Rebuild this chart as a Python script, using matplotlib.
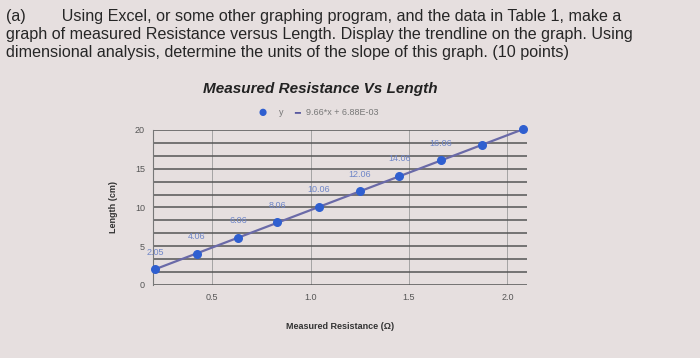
import matplotlib.pyplot as plt
import numpy as np

plt.rcParams["font.family"] = ["Liberation Sans", "DejaVu Sans"]

# data
resistance = [0.21, 0.42, 0.63, 0.83, 1.04, 1.25, 1.45, 1.66, 1.87, 2.08]
length = [2.05, 4.06, 6.06, 8.06, 10.06, 12.06, 14.06, 16.06, 18.06, 20.06]
point_labels = ["2.05", "4.06", "6.06", "8.06", "10.06", "12.06", "14.06", "16.06", "", ""]
slope = 9.66
intercept = 6.88e-03

x_ticks = [0.5, 1.0, 1.5, 2.0]
x_ticklabels = ["0.5", "1.0", "1.5", "2.0"]
y_ticks = [0, 5, 10, 15, 20]

question = [
    "(a)        Using Excel, or some other graphing program, and the data in Table 1, make a",
    "graph of measured Resistance versus Length. Display the trendline on the graph. Using",
    "dimensional analysis, determine the units of the slope of this graph. (10 points)",
]

bg = "#e6dfdf"
fig = plt.figure(figsize=(7, 3.58), dpi=100, facecolor=bg)

for i, line in enumerate(question):
    fig.text(0.008, 0.955 - i * 0.051, line, fontsize=11.6, color="#262626",
             va="center", ha="left")

fig.text(0.457, 0.752, "Measured Resistance Vs Length", fontsize=11,
         fontweight="bold", fontstyle="italic", ha="center", va="center",
         color="#222222")

ax = fig.add_axes([0.219, 0.204, 0.534, 0.433])
ax.set_facecolor(bg)

xs = np.array([0.2, 2.1])
ax.plot(xs, slope * xs + intercept, color="#6a6aa8", lw=1.6, zorder=2)
ax.scatter(resistance, length, s=30, color="#2f5fd0", zorder=3, clip_on=False)

for x, y, lab in zip(resistance, length, point_labels):
    if lab:
        ax.annotate(lab, (x, y), xytext=(0, 9), textcoords="offset points",
                    ha="center", va="bottom", fontsize=6.5, color="#6f86c8")

ax.set_xlim(0.2, 2.1)
ax.set_ylim(0, 20)
ax.set_xticks(x_ticks)
ax.set_xticklabels(x_ticklabels)
ax.set_yticks(y_ticks)
ax.set_yticks(np.arange(0, 20.01, 5 / 3), minor=True)
ax.tick_params(axis="both", length=0, labelsize=6.5, labelcolor="#555555", pad=6)
ax.tick_params(axis="y", which="minor", length=0)

ax.grid(axis="y", which="both", color="#555555", lw=1.1)
ax.grid(axis="x", which="major", color="#9a9a9a", lw=0.6)
ax.set_axisbelow(True)
for side in ["top", "right", "bottom"]:
    ax.spines[side].set_visible(False)
ax.spines["left"].set_color("#777777")
ax.spines["left"].set_linewidth(0.8)

ax.set_xlabel("Measured Resistance (Ω)", fontsize=6.5, fontweight="bold",
              color="#333333", labelpad=14)
ax.set_ylabel("Length (cm)", fontsize=6.5, fontweight="bold", color="#333333",
              labelpad=12)

# legend row
fig.text(0.375, 0.687, "●", fontsize=12, color="#2f5fd0", ha="center", va="center")
fig.text(0.402, 0.687, "y", fontsize=6.5, color="#777777", ha="center", va="center")
fig.text(0.425, 0.687, "━", fontsize=7, color="#5a5aa0", ha="center", va="center")
fig.text(0.437, 0.687, "9.66*x + 6.88E-03", fontsize=6.5, color="#777777",
         ha="left", va="center")

fig.savefig("out.png", dpi=100, facecolor=bg)
